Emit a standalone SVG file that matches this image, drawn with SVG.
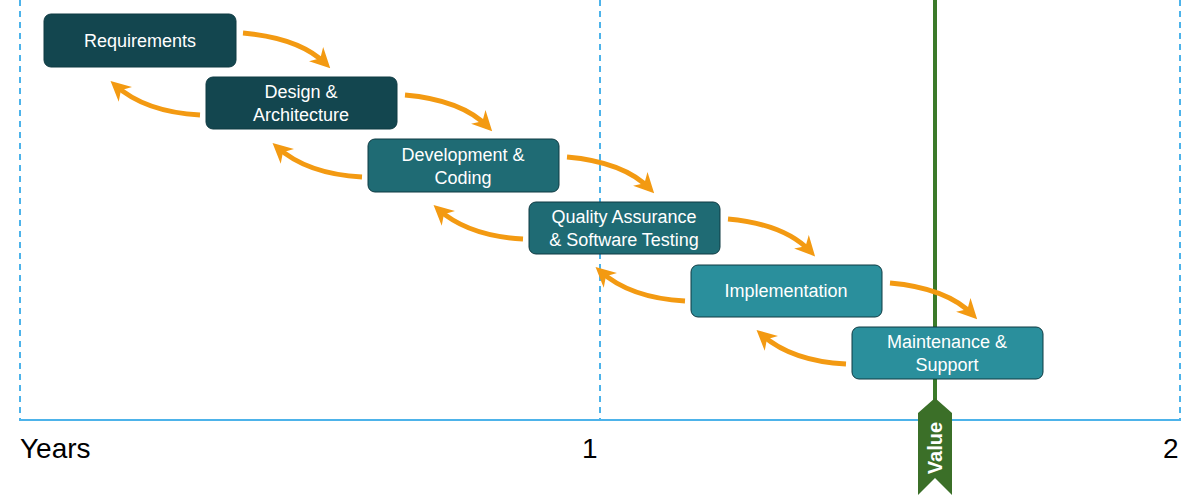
<svg xmlns="http://www.w3.org/2000/svg" width="1200" height="495" viewBox="0 0 1200 495">
<defs>
<style>
.box{stroke:#0e3a42;stroke-width:1}
.t{font-family:"Liberation Sans",Arial,sans-serif;font-size:18px;fill:#fff;text-anchor:middle}
.ax{font-family:"Liberation Sans",Arial,sans-serif;font-size:28px;fill:#000}
.dash{stroke:#4db3ea;stroke-width:2;stroke-dasharray:6 5;fill:none}
.arr{stroke:#f39a12;stroke-width:5;fill:none;marker-end:url(#ah)}
</style>
<marker id="ah" viewBox="0 0 10 10" refX="7" refY="5" markerWidth="4" markerHeight="4" orient="auto" markerUnits="strokeWidth">
<path d="M0,0 L10,5 L0,10 L3,5 Z" fill="#f39a12"/>
</marker>
</defs>
<g id="axes">
<line class="dash" x1="20" y1="0" x2="20" y2="420"/>
<line class="dash" x1="600" y1="0" x2="600" y2="420"/>
<line class="dash" x1="1180" y1="0" x2="1180" y2="420"/>
<line x1="19" y1="420" x2="1181" y2="420" stroke="#4db3ea" stroke-width="2"/>
<text class="ax" x="20" y="458">Years</text>
<text class="ax" x="582" y="458">1</text>
<text class="ax" x="1163" y="458">2</text>
</g>
<g id="value">
<line x1="935" y1="0" x2="935" y2="402" stroke="#3b7a2a" stroke-width="4"/>
<path d="M918,413 L935,398 L952,413 L952,495 L935,478 L918,495 Z" fill="#3b6f28"/>
<text transform="translate(942,448) rotate(-90)" font-family="Liberation Sans,Arial,sans-serif" font-weight="bold" font-size="20" fill="#fff" text-anchor="middle">Value</text>
</g>
<g id="connectors">
<path class="arr" d="M243,33 Q300,38 326,64"/>
<path class="arr" d="M405,95 Q462,100 488,127"/>
<path class="arr" d="M567,157 Q624,162 650,189"/>
<path class="arr" d="M728,219 Q785,224 811,252"/>
<path class="arr" d="M890,283 Q947,288 973,315"/>
<path class="arr" d="M200,115 Q145,112 115,85"/>
<path class="arr" d="M362,177 Q307,174 277,147"/>
<path class="arr" d="M523,239 Q468,236 438,209"/>
<path class="arr" d="M685,301 Q630,298 600,271"/>
<path class="arr" d="M846,364 Q791,361 761,334"/>
</g>
<g id="n1"><rect class="box" x="44" y="14" width="192" height="53" rx="7" fill="#13464f"/><text class="t" x="140" y="47">Requirements</text></g>
<g id="n2"><rect class="box" x="206" y="77" width="191" height="52" rx="7" fill="#13464f"/><text class="t" x="301" y="98">Design &amp;</text><text class="t" x="301" y="121">Architecture</text></g>
<g id="n3"><rect class="box" x="368" y="139" width="191" height="53" rx="7" fill="#1f6b74"/><text class="t" x="463" y="161">Development &amp;</text><text class="t" x="463" y="184">Coding</text></g>
<g id="n4"><rect class="box" x="529" y="202" width="191" height="52" rx="7" fill="#1f6b74"/><text class="t" x="624" y="223">Quality Assurance</text><text class="t" x="624" y="246">&amp; Software Testing</text></g>
<g id="n5"><rect class="box" x="691" y="265" width="191" height="52" rx="7" fill="#2a8f9c"/><text class="t" x="786" y="297">Implementation</text></g>
<g id="n6"><rect class="box" x="852" y="327" width="191" height="52" rx="7" fill="#2a8f9c"/><text class="t" x="947" y="348">Maintenance &amp;</text><text class="t" x="947" y="371">Support</text></g>
</svg>
